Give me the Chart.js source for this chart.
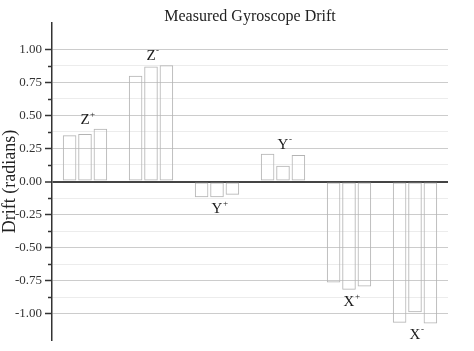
<!DOCTYPE html>
<html>
<head>
<meta charset="utf-8">
<script src="https://cdn.jsdelivr.net/npm/chart.js@4"></script>
<style>
  html, body { margin: 0; padding: 0; background: #fff; }
</style>
</head>
<body>
<canvas id="drift" width="474" height="351"></canvas>
<script>
// Measured gyroscope drift, three runs per rotation direction
const CATEGORIES = ['Z+', 'Z-', 'Y+', 'Y-', 'X+', 'X-'];
const RUN_1 = [0.35, 0.80, -0.12, 0.21, -0.765, -1.07];
const RUN_2 = [0.36, 0.87, -0.12, 0.12, -0.82, -0.99];
const RUN_3 = [0.40, 0.88, -0.10, 0.20, -0.795, -1.075];
const Y_MIN = -1.2, Y_MAX = 1.2, Y_STEP = 0.125;

const SERIF = "'Liberation Serif', 'DejaVu Serif', serif";
const BAR_EDGE = '#b4b4b4';

const onStep = (v, s) => Math.abs(v / s - Math.round(v / s)) < 1e-6;
const isMajor = v => onStep(v, 0.25);
const isMinor = v => !isMajor(v) && onStep(v, 0.125);

// group names (Z+, Y- ...) drawn over / under each group of bars
const groupLabels = {
  id: 'groupLabels',
  afterDatasetsDraw(chart) {
    const ctx = chart.ctx;
    const metas = chart.data.datasets.map((d, i) => chart.getDatasetMeta(i));
    ctx.save();
    ctx.fillStyle = '#1a1a1a';
    ctx.textBaseline = 'alphabetic';
    CATEGORIES.forEach((cat, i) => {
      const bars = metas.map(m => m.data[i]);
      const cx = (bars[0].x + bars[bars.length - 1].x) / 2;
      const up = chart.data.datasets[0].data[i] > 0;
      const y = up ? Math.min(...bars.map(b => b.y)) - 5
                   : Math.max(...bars.map(b => b.y)) + 16;
      ctx.font = '15px ' + SERIF;
      const w = ctx.measureText(cat[0]).width;
      ctx.fillText(cat[0], cx - w / 2, y);
      ctx.font = '9px ' + SERIF;
      ctx.fillText(cat[1], cx + w / 2 + 0.5, y - 7);
    });
    ctx.restore();
  },
  afterDraw(chart) {
    // short minor ticks on the y axis
    const s = chart.scales.y;
    const ctx = chart.ctx;
    ctx.save();
    ctx.strokeStyle = '#333';
    ctx.lineWidth = 1.5;
    s.ticks.forEach(t => {
      if (!isMinor(t.value)) return;
      const py = Math.round(s.getPixelForValue(t.value)) + 0.5;
      ctx.beginPath();
      ctx.moveTo(chart.chartArea.left - 4, py);
      ctx.lineTo(chart.chartArea.left, py);
      ctx.stroke();
    });
    ctx.restore();
  }
};

const barSet = data => ({
  data,
  backgroundColor: 'rgba(0,0,0,0)',
  borderColor: BAR_EDGE,
  borderWidth: 1,
  borderSkipped: false,
  categoryPercentage: 0.7,
  barPercentage: 0.88
});

new Chart(document.getElementById('drift'), {
  type: 'bar',
  data: {
    labels: CATEGORIES,
    datasets: [barSet(RUN_1), barSet(RUN_2), barSet(RUN_3)]
  },
  options: {
    responsive: false,
    animation: false,
    layout: { padding: { left: 0, right: 26, top: 0, bottom: 11 } },
    plugins: {
      legend: { display: false },
      tooltip: { enabled: false },
      title: {
        display: true,
        fullSize: false,
        text: 'Measured Gyroscope Drift',
        color: '#222',
        font: { family: SERIF, size: 16, weight: 'normal', lineHeight: 1 },
        padding: { top: 9, bottom: -2 }
      }
    },
    scales: {
      x: { display: false },
      y: {
        min: Y_MIN,
        max: Y_MAX,
        afterFit: scale => { scale.width = 52; },
        title: {
          display: true,
          text: 'Drift (radians)',
          color: '#222',
          font: { family: SERIF, size: 18, lineHeight: 1.15 },
          padding: 0
        },
        border: { color: '#333', width: 1.5 },
        grid: {
          color: c => c.tick.value === 0 ? '#444' : isMajor(c.tick.value) ? '#cccccc'
                    : isMinor(c.tick.value) ? '#ececec' : 'rgba(0,0,0,0)',
          lineWidth: c => c.tick.value === 0 ? 2 : 1,
          tickColor: c => isMajor(c.tick.value) ? '#333' : 'rgba(0,0,0,0)',
          tickLength: 7,
          tickWidth: 1.5
        },
        ticks: {
          stepSize: Y_STEP,
          autoSkip: false,
          padding: 3,
          color: '#333',
          font: { family: SERIF, size: 13 },
          callback: v => isMajor(v) ? v.toFixed(2) : ''
        }
      }
    }
  },
  plugins: [groupLabels]
});
</script>
</body>
</html>
